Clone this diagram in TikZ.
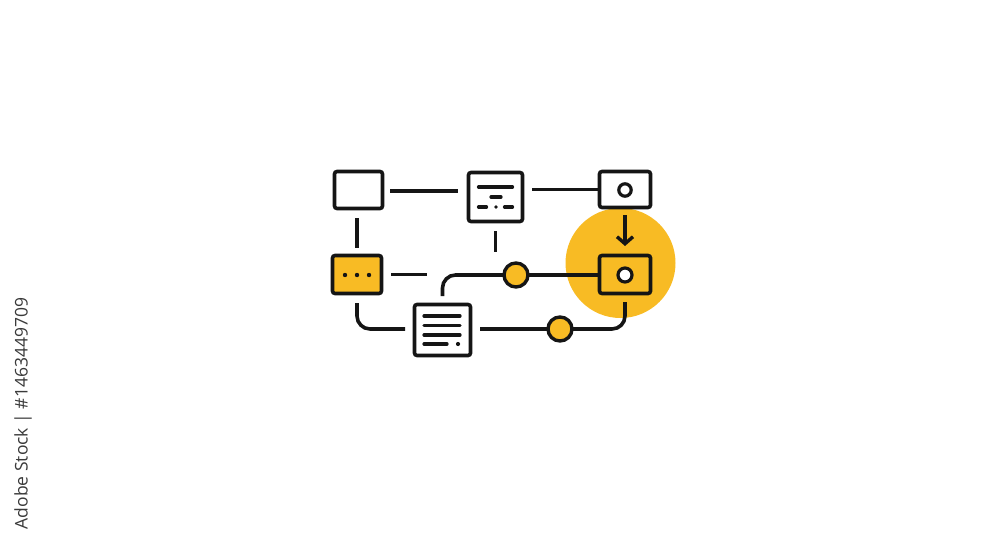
\documentclass[tikz,border=0pt]{standalone}
\usepackage{fontspec}
\newfontfamily\wmfont{Open Sans}
\usetikzlibrary{arrows.meta}
\definecolor{amber}{HTML}{F8BB24}
\definecolor{ink}{HTML}{151515}
\definecolor{wmgray}{HTML}{3A3A3A}
\tikzset{
  box/.style={draw=ink, line width=3.6pt, rounded corners=2.5pt, outer sep=0pt, inner sep=0pt},
  dot/.style={circle, draw=ink, line width=3.4pt, outer sep=0pt, inner sep=0pt, fill=amber, minimum size=24pt},
  wire/.style={draw=ink, line width=3.6pt, line cap=butt},
  glyph/.style={draw=ink, line width=3.2pt, line cap=round},
}
\begin{document}
\begin{tikzpicture}[x=1pt, y=-1pt]
\useasboundingbox (0,0) rectangle (1000,546);
\fill[white] (0,0) rectangle (1000,546);

% highlight disc
\fill[amber] (620.5,263) circle (55);

% boxes
\node[box, minimum width=48pt, minimum height=37pt, fill=white] (A) at (358.5,190) {};
\node[box, minimum width=54pt, minimum height=49pt, fill=white] (B) at (495.5,197) {};
\node[box, minimum width=51pt, minimum height=36pt, fill=white] (C) at (625,189.5) {};
\node[box, minimum width=51pt, minimum height=38pt, fill=amber] (D) at (625,274.5) {};
\node[box, minimum width=49pt, minimum height=38pt, fill=amber] (G) at (357,274.5) {};
\node[box, minimum width=56pt, minimum height=51pt, fill=white] (F) at (442.5,330) {};
\node[dot] (E) at (516,275) {};
\node[dot] (H) at (560,329) {};

\coordinate (bs) at (495.5,252);
\coordinate (gs) at (427,274.5);

% connectors
\draw[wire, shorten <=7.5pt, shorten >=10.5pt] ([yshift=-1pt]A.east) -- ([yshift=-1pt]A.east -| B.west);
\draw[wire, shorten <=9.5pt] (B.east |- C.west) -- (C.west);
\draw[wire, shorten <=9.5pt, shorten >=7.5pt] (A.south -| G.north) -- (G.north);
\draw[wire, shorten <=9.5pt] (B.south) -- (bs);
\draw[wire, shorten <=9.5pt] (G.east) -- (gs);
\draw[wire, -{Straight Barb[length=7pt,width=16pt,line width=3.4pt]}, shorten <=7.5pt, shorten >=9.5pt] (C.south) -- (D.north);
\draw[wire] (E.east) -- (E.east -| D.west);
\draw[wire, rounded corners=13pt, shorten >=8.5pt] (E.west) -| (F.north);
\draw[wire, rounded corners=13pt, shorten <=9.5pt, shorten >=9.5pt] (G.south) |- (F.west |- H.west);
\draw[wire, shorten <=9.5pt] (F.east |- H.west) -- (H.west);
\draw[wire, rounded corners=13pt, shorten >=8.5pt] (H.east) -| (D.south);

% glyphs in C and D
\draw[ink, line width=3.2pt, fill=white] (625,190) circle (6.2);
\draw[ink, line width=3.2pt, fill=white] (625,275) circle (7);

% glyph in B
\draw[glyph] (478.5,187) -- (512.5,187);
\draw[glyph] (491,197) -- (501,197);
\draw[glyph] (478.5,207) -- (486.5,207);
\draw[glyph] (504.5,207) -- (512.5,207);
\fill[ink] (496,207) circle (1.9);

% glyph in G
\foreach \x in {345,357,369} \fill[ink] (\x,275) circle (2.2);

% glyph in F
\draw[glyph] (424,316) -- (460,316);
\draw[glyph] (424,325.5) -- (460,325.5);
\draw[glyph] (424,335) -- (460,335);
\draw[glyph] (424,344) -- (447,344);
\fill[ink] (458,344) circle (2.1);

% watermark
\node[rotate=90, text=wmgray, font=\wmfont\fontsize{17.5}{19}\selectfont, inner sep=0pt] (wm) at (23,413.5) {Adobe Stock | \#1463449709};
\end{tikzpicture}
\end{document}
